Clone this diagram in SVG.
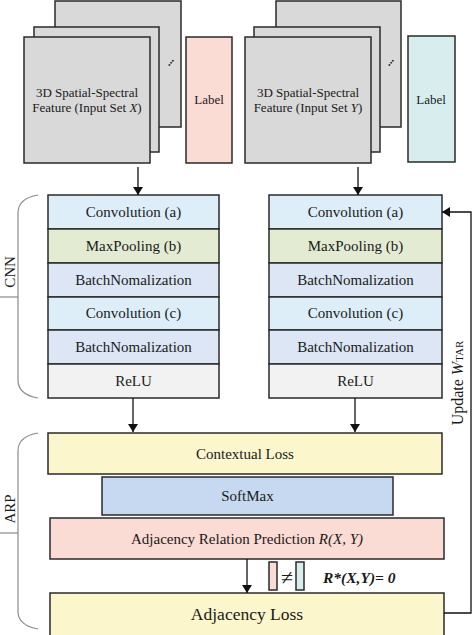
<svg xmlns="http://www.w3.org/2000/svg" width="474" height="635" viewBox="0 0 474 635">
<defs>
<marker id="ah" markerWidth="8" markerHeight="10" refX="8" refY="5" orient="auto" markerUnits="userSpaceOnUse">
<path d="M0,0 L8,5 L0,10 z" fill="#111"/>
</marker>
<style>
text{font-family:"Liberation Serif","Times New Roman",serif;fill:#1a1a1a;}
.sheet{fill:#d9d9d9;stroke:#2a2a2a;stroke-width:1.5;}
.box{stroke:#2a2a2a;stroke-width:1.5;}
.conv{fill:#ddeef9;}
.pool{fill:#e3ecd3;}
.bn{fill:#dce6f4;}
.relu{fill:#f2f2f2;}
.yel{fill:#fcf6cc;}
.soft{fill:#c6d9f0;}
.pink{fill:#fbdcd4;}
.cyan{fill:#d8eeee;}
.t{font-size:15px;text-anchor:middle;}
.s{font-size:13px;text-anchor:middle;}
.dots{font-size:11px;font-weight:bold;text-anchor:middle;}
.br{fill:none;stroke:#8a8a8a;stroke-width:1.2;}
.con{fill:none;stroke:#111;stroke-width:1.3;}
</style>
</defs>
<rect width="474" height="635" fill="#fff"/>

<g id="inputX">
<rect class="sheet" x="55" y="1" width="126" height="126"/>
<rect class="sheet" x="34" y="27" width="125" height="125"/>
<rect class="sheet" x="24" y="37" width="126" height="126"/>
<text class="dots" x="170" y="64" transform="rotate(-50 170 62)">...</text>
<text class="s" x="87" y="97">3D Spatial-Spectral</text>
<text class="s" x="87" y="112">Feature (Input Set <tspan font-style="italic">X</tspan>)</text>
</g>
<g id="labelX">
<rect class="box pink" x="186" y="37" width="46" height="126"/>
<text class="s" x="209" y="104">Label</text>
</g>

<g id="inputY">
<rect class="sheet" x="276" y="1" width="125" height="126"/>
<rect class="sheet" x="254" y="27" width="126" height="125"/>
<rect class="sheet" x="245" y="37" width="126" height="126"/>
<text class="dots" x="390" y="64" transform="rotate(-50 390 62)">...</text>
<text class="s" x="308" y="97">3D Spatial-Spectral</text>
<text class="s" x="308" y="112">Feature (Input Set <tspan font-style="italic">Y</tspan>)</text>
</g>
<g id="labelY">
<rect class="box cyan" x="408" y="36" width="47" height="126"/>
<text class="s" x="431" y="104">Label</text>
</g>

<g id="cnnX">
<rect class="box conv" x="48" y="195" width="171" height="34"/>
<text class="t" x="133.5" y="217">Convolution (a)</text>
<rect class="box pool" x="48" y="229" width="171" height="34"/>
<text class="t" x="133.5" y="251">MaxPooling (b)</text>
<rect class="box bn" x="48" y="263" width="171" height="34"/>
<text class="t" x="133.5" y="285">BatchNomalization</text>
<rect class="box conv" x="48" y="297" width="171" height="33"/>
<text class="t" x="133.5" y="318">Convolution (c)</text>
<rect class="box bn" x="48" y="330" width="171" height="34"/>
<text class="t" x="133.5" y="352">BatchNomalization</text>
<rect class="box relu" x="48" y="364" width="171" height="34"/>
<text class="t" x="133.5" y="386">ReLU</text>
</g>

<g id="cnnY">
<rect class="box conv" x="269" y="195" width="173" height="34"/>
<text class="t" x="355.5" y="217">Convolution (a)</text>
<rect class="box pool" x="269" y="229" width="173" height="34"/>
<text class="t" x="355.5" y="251">MaxPooling (b)</text>
<rect class="box bn" x="269" y="263" width="173" height="34"/>
<text class="t" x="355.5" y="285">BatchNomalization</text>
<rect class="box conv" x="269" y="297" width="173" height="33"/>
<text class="t" x="355.5" y="318">Convolution (c)</text>
<rect class="box bn" x="269" y="330" width="173" height="34"/>
<text class="t" x="355.5" y="352">BatchNomalization</text>
<rect class="box relu" x="269" y="364" width="173" height="34"/>
<text class="t" x="355.5" y="386">ReLU</text>
</g>

<g id="cnnBracket">
<path class="br" d="M38,195 C26,197 18,203 18,213 L18,380 C18,390 26,396 38,398"/>
<path class="br" d="M0,297 L18,297"/>
<text class="t" x="15" y="272" transform="rotate(-90 15 272)">CNN</text>
</g>

<g id="contextual">
<rect class="box yel" x="48" y="433" width="394" height="41"/>
<text class="t" x="245" y="459">Contextual Loss</text>
</g>
<g id="softmax">
<rect class="box soft" x="102" y="477" width="291" height="38"/>
<text class="t" x="247.5" y="501">SoftMax</text>
</g>
<g id="arp">
<rect class="box pink" x="50" y="518" width="394" height="41"/>
<text class="t" x="247" y="544">Adjacency Relation Prediction <tspan font-style="italic">R(X, Y)</tspan></text>
</g>
<g id="adjloss">
<rect class="box yel" x="50" y="593" width="394" height="50"/>
<text x="247" y="620" font-size="17.5" text-anchor="middle">Adjacency Loss</text>
</g>
<g id="target">
<rect class="box pink" x="269" y="562" width="8" height="28" stroke-width="1.2"/>
<text x="287" y="585" font-size="22" text-anchor="middle" font-family="'DejaVu Serif','Liberation Serif',serif">≠</text>
<rect class="box cyan" x="296" y="562" width="8" height="28" stroke-width="1.2"/>
<text x="323" y="583" font-size="15.5" font-style="italic" font-weight="bold">R*(X,Y)= 0</text>
</g>

<g id="arpBracket">
<path class="br" d="M38,433 C26,435 18,441 18,451 L18,612 C18,621 26,627 38,629"/>
<path class="br" d="M0,533 L18,533"/>
<text class="t" x="15" y="509" transform="rotate(-90 15 509)">ARP</text>
</g>

<g id="connectors">
<path class="con" d="M138,167 L138,195" marker-end="url(#ah)"/>
<path class="con" d="M358,167 L358,195" marker-end="url(#ah)"/>
<path class="con" d="M133,398 L133,432" marker-end="url(#ah)"/>
<path class="con" d="M355,398 L355,432" marker-end="url(#ah)"/>
<path class="con" d="M247,559 L247,593" marker-end="url(#ah)"/>
<path class="con" d="M444,613 L471,613 L471,212 L442,212" marker-end="url(#ah)"/>
<text x="463" y="383" font-size="16" text-anchor="middle" transform="rotate(-90 463 383)">Update <tspan font-style="italic">W</tspan><tspan font-size="11">TAR</tspan></text>
</g>
</svg>
